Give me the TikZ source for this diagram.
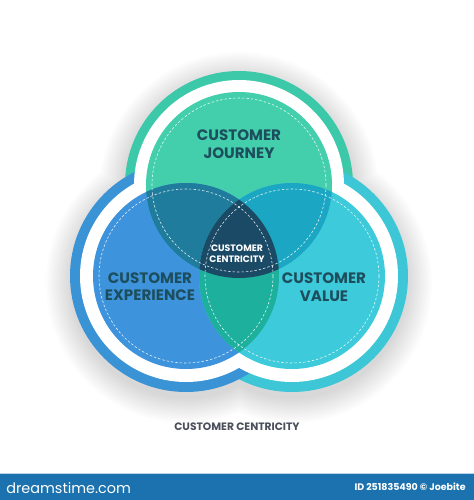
\documentclass[tikz,border=0pt]{standalone}
\usepackage{fontspec}
\setmainfont{Poppins}
\usetikzlibrary{positioning}
\usetikzlibrary{calc}

\definecolor{journey_fill}{HTML}{43CFAB}
\definecolor{experience_fill}{HTML}{3E94DC}
\definecolor{value_fill}{HTML}{3DCADA}
\definecolor{je_fill}{HTML}{1F7C9C}
\definecolor{jv_fill}{HTML}{1BA7C3}
\definecolor{ev_fill}{HTML}{1DB09C}
\definecolor{core_fill}{HTML}{1B4A66}
\definecolor{journey_ring}{HTML}{3CC9A9}
\definecolor{experience_ring}{HTML}{3A93D5}
\definecolor{value_ring}{HTML}{3CC6D6}
\definecolor{label_text}{HTML}{1D4E5E}
\definecolor{title_text}{HTML}{4B4F5C}
\definecolor{bar_blue}{HTML}{1B72AE}

\begin{document}
\begin{tikzpicture}[x=0.2mm, y=-0.2mm,
        dash_style/.style={draw=white, dash pattern=on 1.4pt off 1.1pt, line width=0.35pt, opacity=0.85},
        label_style/.style={inner sep=0pt, align=center, text=label_text, font=\bfseries\fontsize{8.6}{10}\selectfont},
        core_style/.style={inner sep=0pt, align=center, text=white, font=\bfseries\fontsize{5.3}{6.3}\selectfont},
        title_style/.style={inner sep=0pt, text=title_text, font=\bfseries\fontsize{6.1}{7.5}\selectfont},
        bar_style/.style={inner sep=0pt, text=white}]

        \useasboundingbox (0,0) rectangle (474,500);
        \fill[white] (0,0) rectangle (474,500);

        \coordinate (cj) at (239,185);
        \coordinate (ce) at (186,276);
        \coordinate (cv) at (292,276);

        % soft shadow
        \foreach \r in {116,118,...,140}
            \fill[black, opacity=0.011] ($(cj)+(0,7)$) circle (\r) ($(ce)+(0,7)$) circle (\r) ($(cv)+(0,7)$) circle (\r);

        % outer ring
        \fill[journey_ring] (cj) circle (114);
        \fill[value_ring] (cv) circle (116);
        \fill[experience_ring] (ce) circle (116);
        \fill[white] (cj) circle (105) (ce) circle (106) (cv) circle (106);

        % circles
        \fill[journey_fill] (cj) circle (93);
        \fill[experience_fill] (ce) circle (93);
        \fill[value_fill] (cv) circle (93);

        \begin{scope}
            \clip (cj) circle (93);
            \fill[je_fill] (ce) circle (93);
            \fill[jv_fill] (cv) circle (93);
        \end{scope}

        \begin{scope}
            \clip (ce) circle (93);
            \fill[ev_fill] (cv) circle (93);
        \end{scope}

        \begin{scope}
            \clip (cj) circle (93);
            \clip (ce) circle (93);
            \fill[core_fill] (cv) circle (93);
        \end{scope}

        \draw[dash_style] (cj) circle (87);
        \draw[dash_style] (ce) circle (87);
        \draw[dash_style] (cv) circle (87);

        \node [label_style] (journey) at (239,144) {CUSTOMER\\JOURNEY};

        \node [label_style] (experience) at (150,286.5) {CUSTOMER\\EXPERIENCE};

        \node [label_style] (value) at (324,287) {CUSTOMER\\VALUE};

        \node [core_style] (core) at (237,253.5) {CUSTOMER\\CENTRICITY};

        \node [title_style] (title) at (237,427) {CUSTOMER CENTRICITY};

        % bottom bar
        \fill[bar_blue] (0,473) rectangle (474,500);
        \draw[white!70!bar_blue, line width=0.4pt] (0,473) -- (474,473);

        \node [bar_style, anchor=west, font=\fontsize{8.2}{9}\selectfont] (site) at (6,488) {dreamstime.com};

        \node [bar_style, anchor=east, font=\bfseries\fontsize{5.4}{6}\selectfont] (credit) at (466,487) {ID 251835490 © Joebite};

\end{tikzpicture}
\end{document}
